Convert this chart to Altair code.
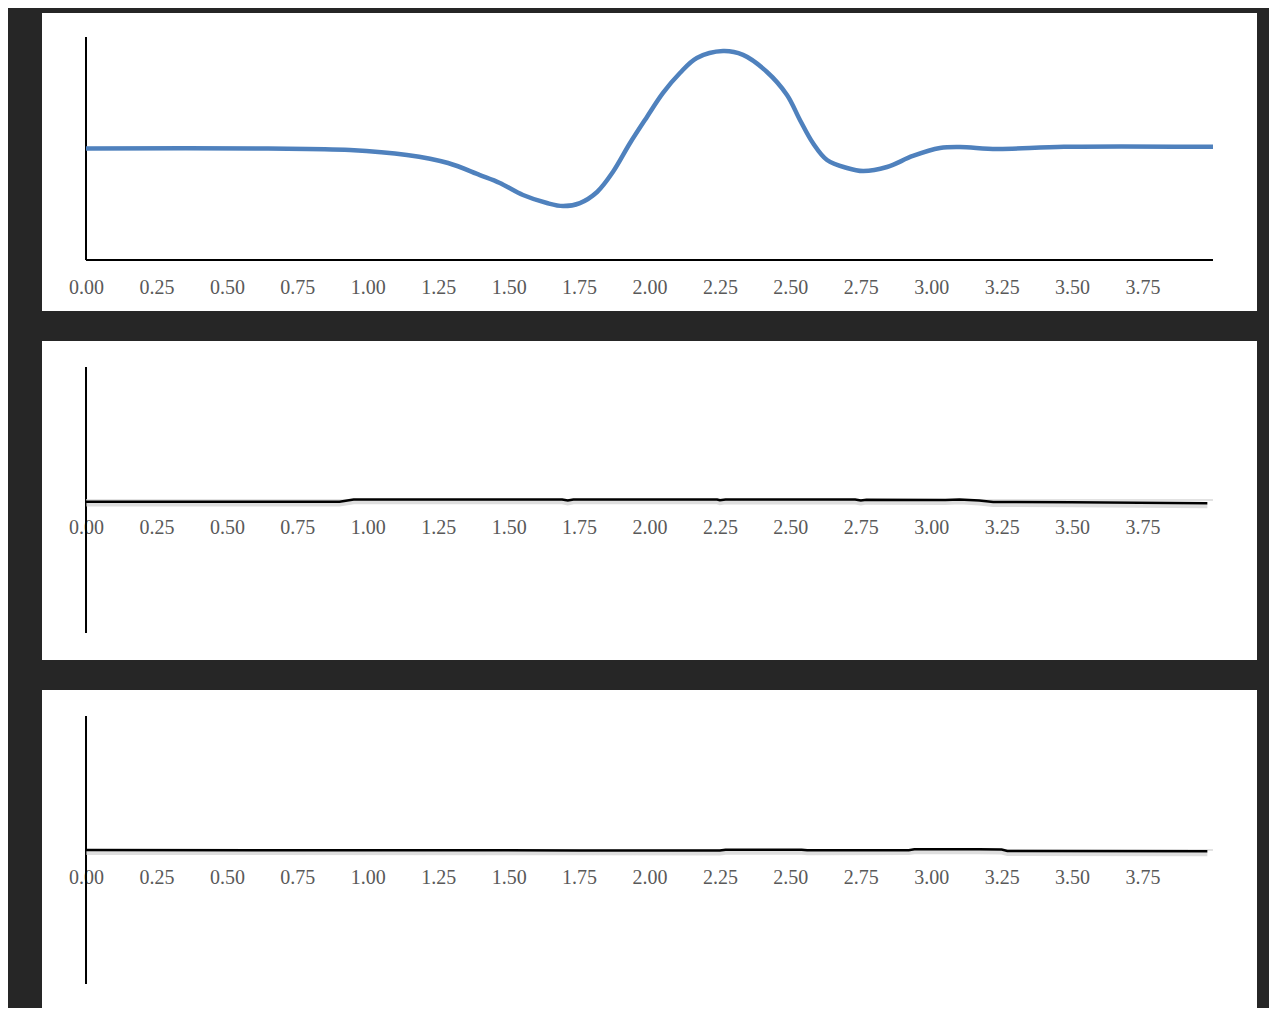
import altair as alt
import pandas as pd

# ---------------- data ----------------
tick_values = [0.0, 0.25, 0.5, 0.75, 1.0, 1.25, 1.5, 1.75, 2.0, 2.25, 2.5, 2.75, 3.0, 3.25, 3.5, 3.75]

# top panel: waveform
wave_x = [0.00, 0.646, 0.937, 1.139, 1.285, 1.398, 1.469, 1.551, 1.636, 1.693,
          1.753, 1.814, 1.870, 1.931, 1.991, 2.048, 2.108, 2.168, 2.261, 2.332,
          2.417, 2.488, 2.534, 2.580, 2.630, 2.701, 2.758, 2.843, 2.935, 3.031,
          3.102, 3.233, 3.471, 4.00]
wave_y = [0.00, 0.00, -0.013, -0.058, -0.13, -0.238, -0.309, -0.417, -0.489, -0.516,
          -0.489, -0.39, -0.211, 0.049, 0.283, 0.498, 0.677, 0.812, 0.874, 0.839,
          0.686, 0.48, 0.256, 0.049, -0.103, -0.175, -0.202, -0.166, -0.067, 0.004,
          0.013, -0.004, 0.016, 0.016]

# middle panel: near-zero trace
mid_x = [0.00, 0.90, 0.95, 1.69, 1.71, 1.73, 2.24, 2.25, 2.27, 2.73, 2.75, 2.77,
         3.05, 3.10, 3.17, 3.22, 3.50, 3.98]
mid_y = [-0.013, -0.013, 0.004, 0.004, -0.004, 0.004, 0.004, -0.002, 0.004, 0.003,
         -0.004, 0.002, 0.000, 0.004, -0.004, -0.015, -0.017, -0.025]

# bottom panel: near-zero trace
bot_x = [0.00, 1.75, 2.25, 2.27, 2.54, 2.56, 2.92, 2.94, 3.17, 3.25, 3.27, 3.98]
bot_y = [0.000, -0.003, -0.004, 0.002, 0.002, -0.002, -0.001, 0.005, 0.005, 0.003,
         -0.008, -0.010]

X_DOM = [-0.1562, 4.1562]
PANEL_W = 1215


def xenc(field, offset):
    return alt.X(field, type="quantitative",
                 scale=alt.Scale(domain=X_DOM, nice=False, zero=False),
                 axis=alt.Axis(values=tick_values, format=".2f", domain=False,
                               ticks=False, tickSize=0, grid=False,
                               labelFont="Liberation Serif", labelFontSize=20,
                               labelColor="#595959", labelPadding=17,
                               labelFlush=False, labelOverlap=False,
                               offset=offset, title=None))


def yenc(field, ydom):
    return alt.Y(field, type="quantitative",
                 scale=alt.Scale(domain=ydom, nice=False, zero=False),
                 axis=None)


def axis_rules(ydom, offset, zero_axis):
    yax = pd.DataFrame({"x": [0.0], "y": [-1.0], "y2": [1.0]})
    layers = [
        alt.Chart(yax).mark_rule(color="black", strokeWidth=2).encode(
            x=xenc("x", offset), y=yenc("y", ydom), y2="y2")
    ]
    if zero_axis:
        xax = pd.DataFrame({"x": [0.0], "x2": [4.0], "y": [0.0]})
        layers.append(alt.Chart(xax).mark_rule(color="#d9d9d9", strokeWidth=1.5).encode(
            x=xenc("x", offset), x2="x2", y=yenc("y", ydom)))
    else:
        xax = pd.DataFrame({"x": [0.0], "x2": [4.0], "y": [-1.0]})
        layers.append(alt.Chart(xax).mark_rule(color="black", strokeWidth=2).encode(
            x=xenc("x", offset), x2="x2", y=yenc("y", ydom)))
    return layers


# ---------------- top panel ----------------
top_dom = [-1.457, 1.215]
top_off = -51
wave_df = pd.DataFrame({"t": wave_x, "v": wave_y})
top_line = alt.Chart(wave_df).mark_line(color="#4F81BD", strokeWidth=4.5,
                                        interpolate="catmull-rom").encode(
    x=xenc("t", top_off), y=yenc("v", top_dom))
top = alt.layer(*axis_rules(top_dom, top_off, False), top_line).properties(
    width=PANEL_W, height=298)


# ---------------- near-zero panels ----------------
def flat_panel(xs, ys, ydom, off, h):
    df = pd.DataFrame({"t": xs, "v": ys})
    shadow = alt.Chart(df).transform_calculate(s="datum.v - 0.022").mark_line(
        color="#c8c8c8", strokeWidth=4, opacity=0.6).encode(
        x=xenc("t", off), y=yenc("s:Q", ydom))
    line = alt.Chart(df).mark_line(color="black", strokeWidth=2.5).encode(
        x=xenc("t", off), y=yenc("v", ydom))
    return alt.layer(*axis_rules(ydom, off, True), shadow, line).properties(
        width=PANEL_W, height=h)


mid = flat_panel(mid_x, mid_y, [-1.203, 1.195], -160, 319)
bot = flat_panel(bot_x, bot_y, [-1.179, 1.194], -158, 318)

chart = alt.vconcat(top, mid, bot, spacing=30, bounds="flush").properties(
    background="#262626",
    padding={"left": 34, "top": 5, "right": 12, "bottom": 0},
).configure_view(fill="white", strokeWidth=0)

chart.save("out.html", embed_options={"renderer": "svg", "actions": False})
